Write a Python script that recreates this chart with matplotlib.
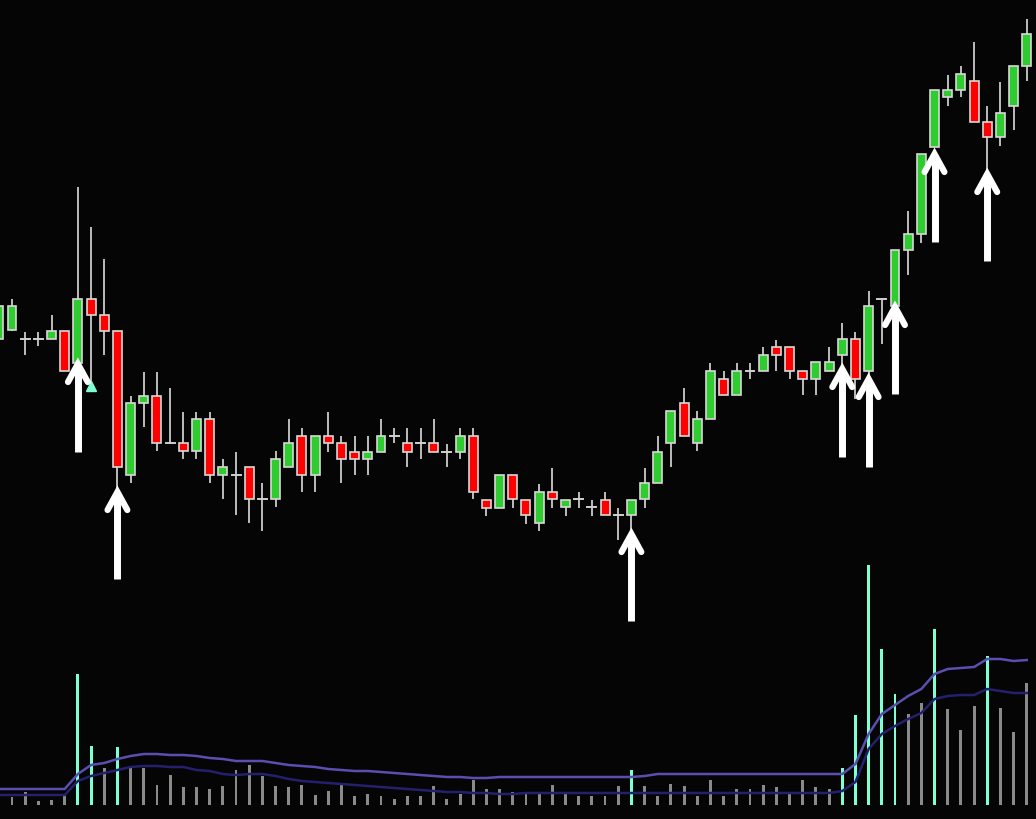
import matplotlib
matplotlib.use("Agg")
import matplotlib.pyplot as plt
import numpy as np

# price data (chart units)
opens  = [340,331,340,340,340,332,364,300,316,332,476,404,397,444,444,452,420,476,476,468,500,500,468,437,476,437,444,453,460,453,437,444,444,444,453,453,437,501,509,476,501,524,493,508,500,508,501,516,516,500,484,444,404,444,420,380,396,372,372,348,348,372,380,372,356,340,372,300,307,251,235,148,98,91,82,123,138,107,67]
closes = [307,307,340,340,332,372,300,316,332,468,404,397,444,444,452,420,476,468,476,500,500,460,444,476,437,444,460,460,453,437,437,453,444,453,453,437,493,509,476,500,516,493,500,501,500,508,516,516,501,484,453,412,437,420,372,396,372,372,356,356,372,380,363,363,340,380,307,300,251,235,155,91,91,75,123,138,114,67,35]
highs  = [305,300,333,333,316,332,188,228,260,332,397,373,373,389,413,413,413,460,453,468,484,452,420,429,437,413,437,437,437,420,429,429,429,420,445,429,429,501,476,476,501,485,469,501,493,501,493,509,501,469,437,412,389,412,364,372,364,364,348,341,348,372,363,348,324,333,292,300,251,212,155,91,76,67,43,107,83,67,20]
lows   = [342,332,356,347,340,372,364,392,356,490,484,428,452,444,460,460,484,500,516,524,532,508,468,493,493,453,484,476,476,453,444,468,460,453,468,460,500,517,509,509,525,532,509,517,509,517,516,541,535,509,484,468,437,452,420,396,396,380,372,372,380,396,396,372,372,400,380,345,307,276,244,148,107,98,123,175,147,131,82]

# volume and the two volume average lines (chart units above the baseline)
volume = [0,8,13,4,5,11,131,59,37,58,39,37,20,30,18,18,16,19,35,40,29,19,18,20,10,14,20,9,11,9,6,9,9,19,6,11,25,16,16,13,13,13,20,11,9,9,9,19,35,19,9,21,19,9,25,9,16,16,20,18,11,25,18,16,37,90,240,156,111,91,102,176,96,75,99,149,97,73,122]
vol_upper = [16,16,16,16,16,16,31,40,42,46,49,51,51,50,50,49,47,46,44,44,44,42,40,39,38,36,35,34,34,33,32,31,30,29,28,28,27,27,28,28,28,28,28,28,28,28,28,28,28,29,31,31,31,31,31,31,31,31,31,31,31,31,31,31,31,41,71,91,100,109,116,131,136,137,138,146,146,144,145]
vol_lower = [10,10,10,10,10,10,24,29,32,35,38,39,39,38,38,35,34,31,30,31,31,29,26,24,23,22,21,20,19,18,17,16,15,14,13,13,12,12,11,11,12,12,12,12,12,12,12,12,12,12,12,12,12,12,12,12,12,12,12,12,12,12,12,12,14,23,56,71,79,86,92,106,109,110,110,116,114,112,112]
BASE = 14  # volume baseline in chart units

# signal arrows: (candle index, tip level, tail level)
arrow_idx  = [6, 9, 48, 64, 66, 68, 71, 75]
arrow_tip  = [455, 327, 285, 450, 440, 512, 665, 645]
arrow_tail = [367, 240, 198, 362, 352, 425, 577, 558]

n = len(opens)
x = np.arange(n)

fig = plt.figure(figsize=(10.36, 8.2), dpi=100)
fig.patch.set_facecolor("#050505")
ax = fig.add_axes([0, 0, 1, 1])
ax.set_facecolor("#050505")
ax.set_xlim(0.09, 78.7)
ax.set_ylim(0, 820)
ax.axis("off")

w = 0.68
for i in range(n):
    o, c, h, l = opens[i], closes[i], highs[i], lows[i]
    ax.plot([i, i], [820 - h, 820 - l], color="#bdbdbd", lw=1.4, zorder=2, solid_capstyle="butt")
    if o == c:
        ax.plot([i - w / 2, i + w / 2], [820 - o, 820 - o], color="#d0d0d0", lw=1.4, zorder=3)
    else:
        up = c < o
        col = "#2ecc2e" if up else "#ff0000"
        top, bot = min(o, c), max(o, c)
        ax.bar(i, bot - top, bottom=820 - bot, width=w, color=col,
               edgecolor="#d8d8d8", linewidth=1.2, zorder=3)

vol_arr = np.array(volume, float)
up_arr = np.array(vol_upper, float)
cols = ["#7fffd4" if v > u else "#8a8a8a" for v, u in zip(vol_arr, up_arr)]
ax.bar(x, vol_arr, bottom=BASE, width=0.22, color=cols, linewidth=0, zorder=2)
ax.plot(x, BASE + up_arr, color="#5a4fb0", lw=1.8, zorder=2)
ax.plot(x, BASE + np.array(vol_lower, float), color="#24206e", lw=1.8, zorder=2)

for i, tip, tail in zip(arrow_idx, arrow_tip, arrow_tail):
    ax.plot([i, i], [tail, tip - 2], color="white", lw=5, solid_capstyle="butt", zorder=5)
    ax.plot([i - 0.75, i, i + 0.75], [tip - 18, tip, tip - 18], color="white", lw=4.5,
            solid_joinstyle="miter", solid_capstyle="round", zorder=5)

ax.plot([7], [820 - 387], marker="^", color="#7fffd4", markersize=7, zorder=4)

fig.savefig("out.png", dpi=100, facecolor=fig.get_facecolor())
